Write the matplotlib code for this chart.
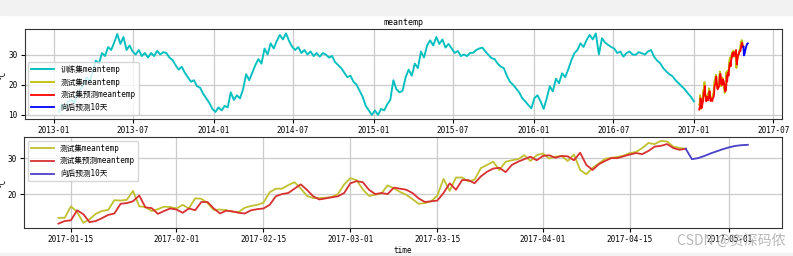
import numpy as np
import pandas as pd
import matplotlib
matplotlib.use('Agg')
from matplotlib import pyplot as plt
import matplotlib.dates as mdates
from matplotlib.patches import Rectangle

plt.rcParams['font.family'] = ['DejaVu Sans Mono', 'Noto Sans CJK SC']
plt.rcParams['axes.unicode_minus'] = False

#训练集 (weekly readings, 2013-01-13 .. 2017-01-01)
train_start = '2013-01-13'
train_vals = [
    # 2013
    11.0, 13.5, 12.0, 14.5, 15.0, 14.0, 17.0, 18.5, 20.0, 22.5, 21.0, 24.5,
    28.0, 27.0, 30.5, 29.5, 32.5, 31.5, 34.0, 36.8, 33.5, 35.8, 31.5, 33.0,
    31.0, 30.0, 31.5, 29.5, 30.5, 29.0, 30.5, 29.5, 31.2, 30.0, 30.8, 30.5,
    29.0, 28.2, 26.5, 25.0, 26.0, 24.0, 22.5, 21.0, 21.5, 19.5, 19.0, 17.0,
    15.5, 14.0, 12.0,
    # 2014
    11.0, 12.5, 11.5, 13.0, 12.5, 17.5, 15.0, 16.5, 15.5, 18.5, 23.5, 21.5,
    24.0, 26.5, 28.5, 27.0, 32.0, 30.0, 33.7, 32.0, 34.5, 36.5, 35.0, 37.0,
    34.5, 32.6, 31.5, 32.5, 30.5, 31.5, 30.0, 31.0, 29.5, 30.5, 29.3, 30.5,
    30.0, 29.0, 29.5, 27.5, 26.5, 25.5, 24.0, 22.5, 23.0, 21.0, 20.0, 18.0,
    16.0, 13.0, 11.5, 10.0,
    # 2015
    11.5, 10.0, 12.0, 11.5, 13.5, 15.0, 21.5, 18.5, 17.5, 18.0, 22.5, 25.0,
    23.0, 27.0, 25.5, 31.0, 29.0, 33.0, 34.7, 33.0, 35.8, 33.5, 35.0, 32.3,
    33.5, 32.0, 30.5, 31.2, 29.5, 30.0, 29.5, 30.5, 30.6, 31.5, 32.0, 32.3,
    31.0, 29.9, 28.8, 28.5, 27.0, 26.0, 25.5, 23.0, 21.0, 20.0, 18.8, 17.5,
    15.6, 14.5, 13.3, 12.2,
    # 2016
    15.6, 16.5, 14.5, 12.0, 15.5, 19.5, 17.8, 22.0, 20.5, 23.8, 22.5, 25.0,
    28.0, 30.4, 31.5, 33.7, 32.5, 34.8, 36.5, 35.0, 37.0, 30.0, 35.4, 34.0,
    33.2, 32.5, 32.0, 30.5, 31.0, 29.3, 30.5, 31.0, 30.0, 29.9, 30.8, 30.4,
    30.0, 31.0, 31.5, 29.3, 28.0, 27.1, 25.5, 24.4, 23.5, 22.8, 21.5, 20.5,
    19.5, 18.5, 17.2, 16.0, 14.5,
]

#测试集 2017-01-13 .. 2017-04-24
test_start = '2017-01-13'
test_vals = [
    13.4, 13.4, 16.6, 15.0, 12.0, 13.0, 14.5, 15.3, 15.6, 18.3, 18.2, 18.4,
    20.9, 16.6, 16.4, 15.3, 15.8, 16.5, 16.4, 16.0, 17.0, 16.0, 18.8, 18.7,
    17.5, 15.6, 15.7, 15.5, 15.1, 15.0, 16.2, 16.7, 17.0, 17.6, 20.5, 21.5,
    21.5, 22.5, 23.3, 21.6, 19.5, 18.9, 18.9, 19.0, 19.2, 20.0, 22.7, 24.4,
    23.9, 21.3, 19.5, 19.8, 20.2, 22.4, 21.6, 20.6, 19.8, 18.6, 17.3, 17.5,
    18.0, 19.6, 24.2, 20.9, 24.6, 24.6, 23.5, 24.0, 27.2, 28.1, 29.0, 26.7,
    29.0, 29.4, 29.7, 30.8, 29.2, 30.8, 31.3, 29.9, 30.4, 30.6, 29.2, 31.0,
    26.7, 25.5, 27.3, 28.5, 29.8, 30.1, 30.3, 30.7, 31.4, 31.7, 32.8, 34.2,
    33.9, 34.8, 34.6, 33.2, 32.8, 32.6,
]
pred_vals = [
    11.8, 12.5, 12.7, 15.5, 14.4, 12.2, 12.5, 13.3, 14.2, 14.6, 17.3, 17.5,
    18.0, 19.6, 16.3, 16.1, 14.5, 15.3, 16.0, 15.7, 14.8, 16.0, 15.5, 17.8,
    17.8, 16.0, 14.6, 15.4, 15.2, 14.8, 14.6, 15.5, 15.8, 16.0, 17.0, 19.4,
    20.0, 20.3, 21.5, 22.7, 21.2, 19.4, 18.5, 18.8, 19.1, 19.4, 20.3, 23.0,
    23.6, 23.3, 21.2, 20.0, 20.3, 20.0, 21.8, 21.5, 21.2, 20.3, 18.8, 17.8,
    18.0, 18.2, 20.3, 23.0, 21.2, 23.9, 23.9, 23.0, 24.9, 26.2, 27.1, 27.3,
    26.1, 28.1, 29.0, 29.7, 30.4, 29.4, 30.6, 30.8, 30.1, 30.6, 30.5, 29.4,
    31.5, 28.1, 26.7, 28.3, 29.2, 30.0, 30.0, 30.5, 31.0, 31.4, 31.1, 32.0,
    33.2, 33.4, 33.9, 32.8, 32.3, 32.6,
]

#向后预测10天
future_start = '2017-04-24'
future_vals = [32.6, 29.7, 30.0, 30.6, 31.3, 31.9, 32.5, 33.0, 33.4, 33.6, 33.7]

train_dates = pd.date_range(train_start, periods=len(train_vals), freq='7D')
test_dates = pd.date_range(test_start, periods=len(test_vals), freq='D')
future_dates = pd.date_range(future_start, periods=len(future_vals), freq='D')

fig = plt.figure(figsize=(7.93, 2.56), dpi=100)
# screenshot bands
fig.patches.append(Rectangle((0, 0.94), 1, 0.06, transform=fig.transFigure,
                             color='#f2f2f2', zorder=-1))
fig.patches.append(Rectangle((0, 0), 1, 0.013, transform=fig.transFigure,
                             color='#f2f2f2', zorder=-1))

fs = 5.5
ax1 = fig.add_axes([0.031, 0.535, 0.9555, 0.3505])
ax2 = fig.add_axes([0.0303, 0.1105, 0.9562, 0.3555])

ax1.plot(train_dates, train_vals, color='c', lw=1.35, label='训练集meantemp')
ax1.plot(test_dates, test_vals, color='y', lw=1.3, label='测试集meantemp')
ax1.plot(test_dates, pred_vals, color='r', lw=1.3, label='测试集预测meantemp')
ax1.plot(future_dates, future_vals, color='b', lw=1.3, label='向后预测10天')
ax1.set_title('meantemp', fontsize=6, pad=3)
ax1.xaxis.set_major_locator(mdates.MonthLocator(bymonth=[1, 7]))
ax1.xaxis.set_major_formatter(mdates.DateFormatter('%Y-%m'))
ax1.legend(loc='lower left', fontsize=fs, handlelength=3)

ax2.plot(test_dates, test_vals, color='#c0c030', lw=1.3, label='测试集meantemp')
ax2.plot(test_dates, pred_vals, color='#d83030', lw=1.3, label='测试集预测meantemp')
ax2.plot(future_dates, future_vals, color='#4a3fc8', lw=1.3, label='向后预测10天')
ax2.xaxis.set_major_locator(mdates.DayLocator(bymonthday=[1, 15]))
ax2.xaxis.set_major_formatter(mdates.DateFormatter('%Y-%m-%d'))
ax2.set_xlabel('time', fontsize=fs, labelpad=2)
ax2.legend(loc='upper left', fontsize=fs, handlelength=3)

for ax in (ax1, ax2):
    ax.grid(True, color='#cccccc', lw=0.9)
    ax.set_axisbelow(True)
    ax.tick_params(labelsize=fs, pad=2, length=3)
    ax.set_ylabel('°C', fontsize=fs, labelpad=1)
    for s in ax.spines.values():
        s.set_color('#333333')

fig.text(0.99, 0.06, 'CSDN @资深码侬', ha='right', va='center', fontsize=10,
         color='#b8b8b8', family=['Noto Sans CJK SC', 'DejaVu Sans'])

plt.savefig('out.png', dpi=100)
